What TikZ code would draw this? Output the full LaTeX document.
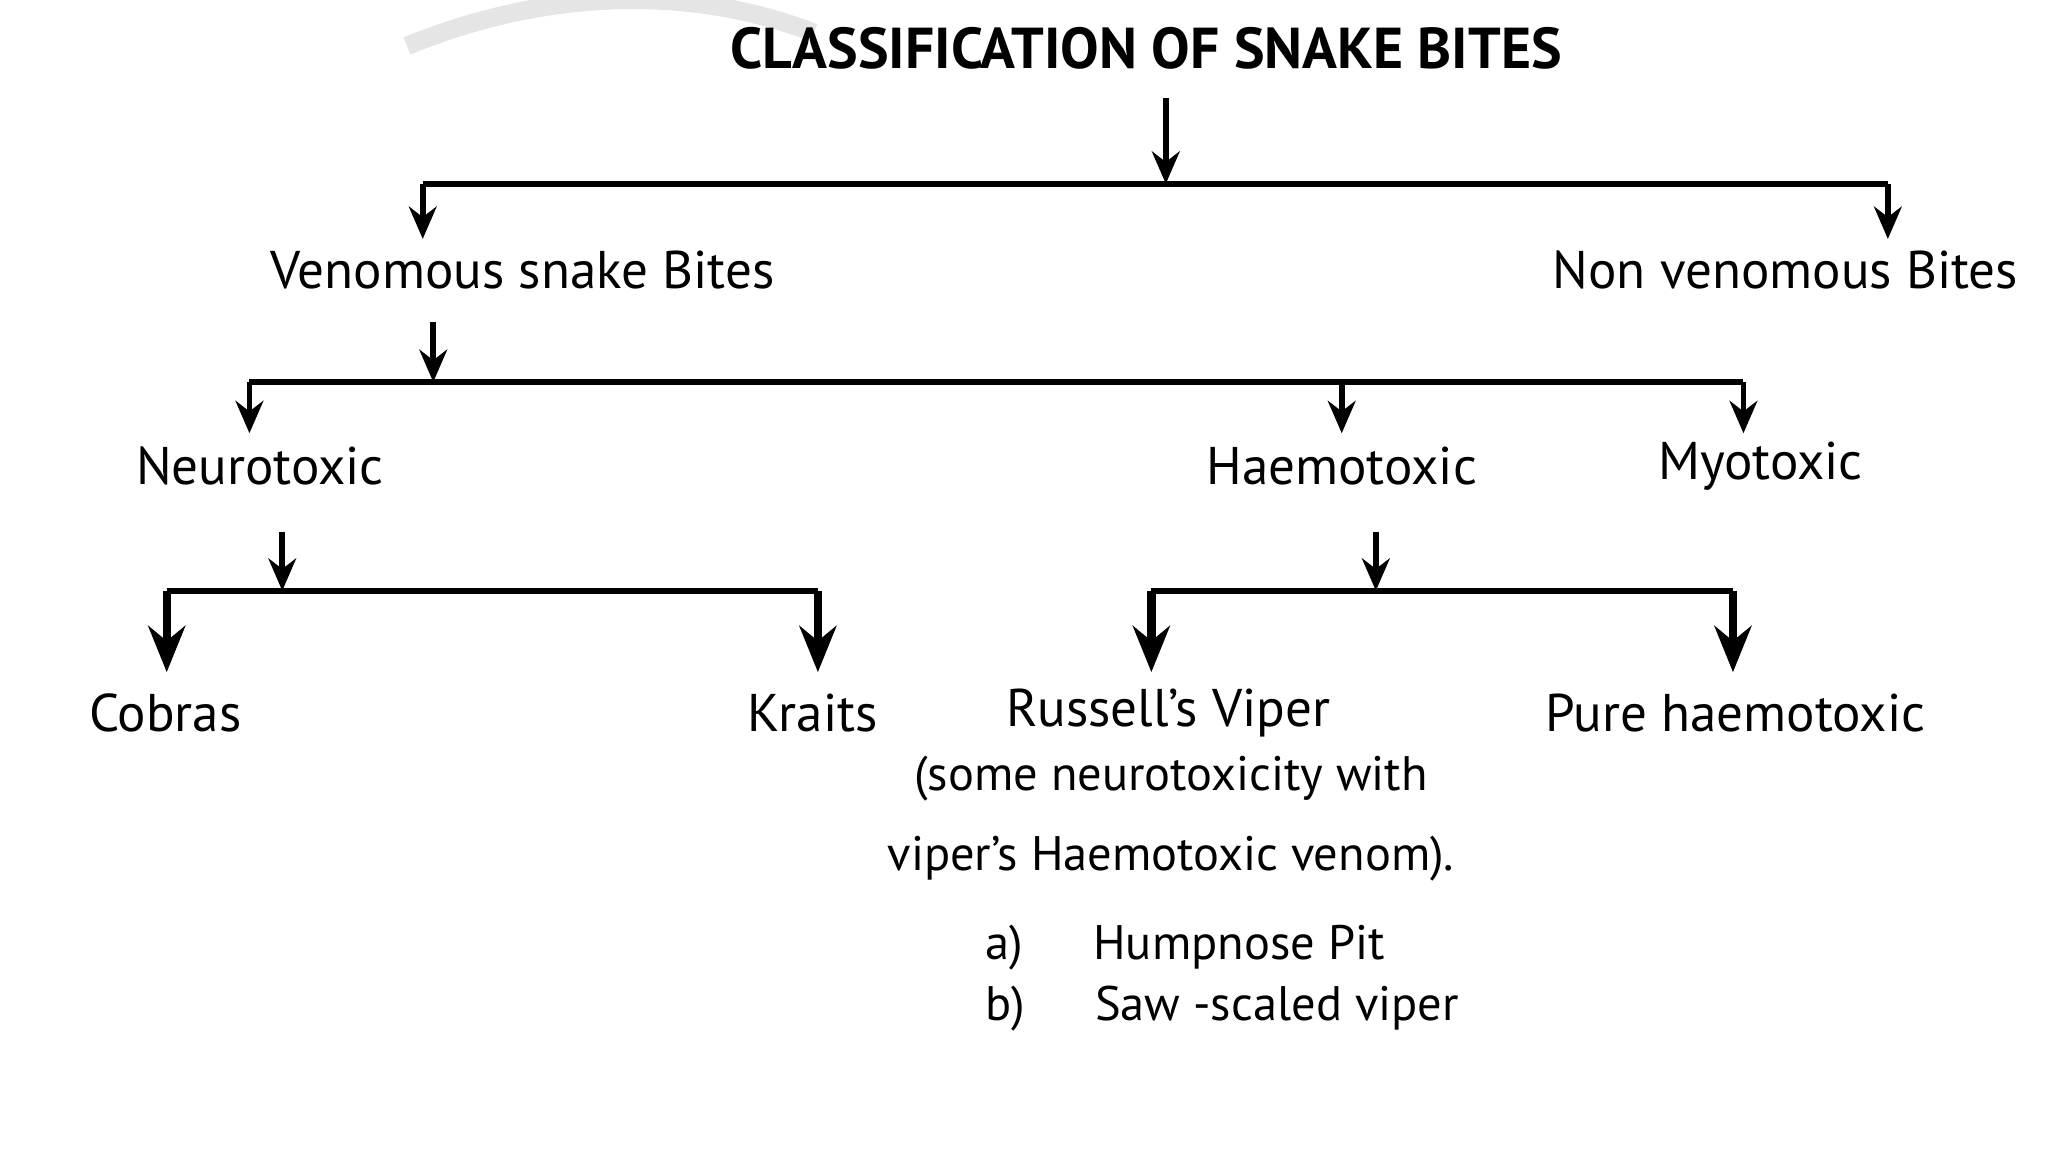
\documentclass[tikz,border=0pt]{standalone}
\usepackage{fontspec}
\setmainfont{PT Sans}
\usetikzlibrary{arrows.meta}
\begin{document}
\begin{tikzpicture}[x=1cm,y=-1cm,
    lbl/.style={font=\fontsize{11.5}{13}\selectfont, inner sep=0pt},
    bar/.style={line width=1.2pt},
    arr/.style={line width=1.2pt,-{Stealth[length=7pt,width=6pt]}},
    bigarr/.style={line width=1.8pt,-{Stealth[length=10pt,width=8pt]}}]

  % frame
  \useasboundingbox (0,0) rectangle (15.6,8.78);
  \draw[gray!20, line width=4pt] (3.1,0.35) .. controls (4.2,-0.1) and (5.3,-0.1) .. (6.2,0.25);

  % labels
  \node[lbl, font=\fontsize{12.5}{14}\selectfont\bfseries] (title) at (8.73,0.37) {CLASSIFICATION OF SNAKE BITES};
  \node[lbl] (ven) at (3.98,2.06) {Venomous snake Bites};
  \node[lbl] (non) at (13.6,2.06) {Non venomous Bites};
  \node[lbl] (neuro) at (1.98,3.55) {Neurotoxic};
  \node[lbl] (haemo) at (10.22,3.55) {Haemotoxic};
  \node[lbl] (myo) at (13.41,3.55) {Myotoxic};
  \node[lbl] (cobra) at (1.26,5.43) {Cobras};
  \node[lbl] (krait) at (6.19,5.43) {Kraits};
  \node[lbl] (russ) at (8.9,5.43) {Russell’s Viper};
  \node[lbl] (pure) at (13.22,5.43) {Pure haemotoxic};
  \node[lbl, align=center, font=\fontsize{10.5}{12}\selectfont] (note) at (8.92,6.235)
    {(some neurotoxicity with\\[5.5pt] viper’s Haemotoxic venom).};
  \node[lbl, anchor=west, font=\fontsize{10.5}{12}\selectfont] (pa) at (7.5,7.22) {a)\hspace{1.45em}Humpnose Pit};
  \node[lbl, anchor=west, font=\fontsize{10.5}{12}\selectfont] (pb) at (7.5,7.68) {b)\hspace{1.45em}Saw -scaled viper};

  % level 1
  \coordinate (t0) at (8.88,0.75);
  \coordinate (j0) at (8.88,1.40);
  \draw[arr] (t0) -- (j0);
  \draw[bar] (3.22,1.40) -- (14.38,1.40);
  \draw[arr] (3.22,1.40) -- (3.22,1.82);
  \draw[arr] (14.38,1.40) -- (14.38,1.82);

  % level 2
  \coordinate (t1) at (3.30,2.45);
  \coordinate (j1) at (3.30,2.91);
  \draw[arr] (t1) -- (j1);
  \draw[bar] (1.90,2.91) -- (13.28,2.91);
  \foreach \xx in {1.90,10.22,13.28}
    \draw[arr] (\xx,2.91) -- (\xx,3.30);

  % level 3 neuro
  \coordinate (t2) at (2.15,4.05);
  \coordinate (j2) at (2.15,4.50);
  \draw[arr] (t2) -- (j2);
  \draw[bar] (1.27,4.50) -- (6.23,4.50);
  \draw[bigarr] (1.27,4.50) -- (1.27,5.12);
  \draw[bigarr] (6.23,4.50) -- (6.23,5.12);

  % level 3 haemo
  \coordinate (t3) at (10.48,4.05);
  \coordinate (j3) at (10.48,4.50);
  \draw[arr] (t3) -- (j3);
  \draw[bar] (8.77,4.50) -- (13.20,4.50);
  \draw[bigarr] (8.77,4.50) -- (8.77,5.12);
  \draw[bigarr] (13.20,4.50) -- (13.20,5.12);
\end{tikzpicture}
\end{document}
